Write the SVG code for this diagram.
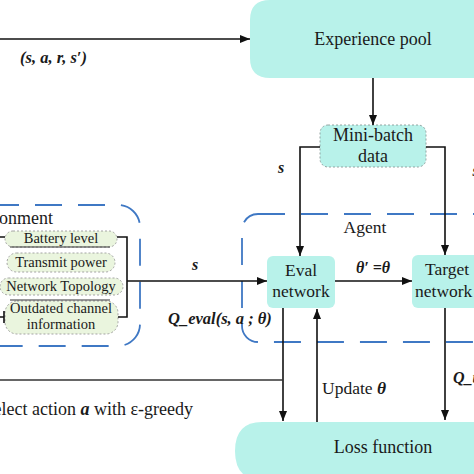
<svg xmlns="http://www.w3.org/2000/svg" width="474" height="474" viewBox="0 0 474 474">
<style>
text{font-family:"Liberation Serif","Times New Roman",serif;fill:#1a1a1a}
.bi{font-weight:bold;font-style:italic}
.cyan{fill:#b8f2ea}
.dash{fill:none;stroke:#3f78c4;stroke-width:1.8;stroke-dasharray:27 16}
.pill{fill:#eaf5de;stroke:#9a9a9a;stroke-width:0.9;stroke-dasharray:2 2}
.ln{fill:none;stroke:#111;stroke-width:1.6}
</style>
<defs>
<marker id="ah" viewBox="0 0 10 8" refX="10" refY="4" markerWidth="10" markerHeight="8" markerUnits="userSpaceOnUse" orient="auto">
<path d="M0,0 L10,4 L0,8 Z" fill="#111"/>
</marker>
</defs>
<rect width="474" height="474" fill="#fff"/>

<g id="environment">
<rect class="dash" x="-30" y="205" width="170" height="141" rx="22"/>
<text x="53" y="224" font-size="18" text-anchor="end">Environment</text>
<rect class="pill" x="5" y="231" width="112" height="16" rx="8"/>
<text x="61" y="243" font-size="14.5" text-anchor="middle">Battery level</text>
<rect class="pill" x="7" y="253" width="108" height="19" rx="9.5"/>
<text x="61" y="267" font-size="14.5" text-anchor="middle">Transmit power</text>
<rect class="pill" x="0" y="278" width="123" height="17" rx="8.5"/>
<text x="61" y="291" font-size="14.5" text-anchor="middle">Network Topology</text>
<rect class="pill" x="5" y="301" width="113" height="33" rx="12"/>
<text x="61" y="313" font-size="14.5" text-anchor="middle">Outdated channel</text>
<text x="61" y="329" font-size="14.5" text-anchor="middle">information</text>
<path d="M10,247 H110 M10,300 H110" stroke="#333" stroke-width="1" fill="none"/>
<path class="ln" d="M117,237 H127 V317 H118 M0,237 H5 M0,317 H4 M4,311 V323"/>
</g>

<g id="experience-pool">
<path class="cyan" d="M270,0 H480 V78 H270 Q250,78 250,58 V20 Q250,0 270,0 Z"/>
<text x="373" y="45" font-size="18" text-anchor="middle">Experience  pool</text>
</g>

<g id="mini-batch">
<rect x="320" y="125" width="106" height="42" rx="8" fill="#b8f2ea" stroke="#8a9a98" stroke-width="0.9" stroke-dasharray="2 2"/>
<text x="373" y="141" font-size="18" text-anchor="middle">Mini-batch</text>
<text x="373" y="162" font-size="18" text-anchor="middle">data</text>
</g>

<g id="agent">
<rect class="dash" x="242" y="214" width="260" height="128" rx="16"/>
<text x="365" y="233" font-size="17.5" text-anchor="middle">Agent</text>
</g>

<g id="eval-network">
<rect class="cyan" x="267" y="256" width="68" height="52" rx="6"/>
<text x="301" y="276" font-size="17.5" text-anchor="middle">Eval</text>
<text x="301" y="297" font-size="17.5" text-anchor="middle">network</text>
</g>

<g id="target-network">
<rect class="cyan" x="412" y="255" width="80" height="53" rx="6"/>
<text x="447" y="275" font-size="17.5" text-anchor="middle">Target</text>
<text x="415" y="297" font-size="17.5">network</text>
</g>

<g id="loss-function">
<path class="cyan" d="M262,422 H480 V480 H262 Q235,480 235,451 Q235,422 262,422 Z"/>
<text x="383" y="453" font-size="18" text-anchor="middle">Loss function</text>
</g>

<g id="connectors">
<path class="ln" d="M0,39 H250" marker-end="url(#ah)"/>
<path class="ln" d="M373,78 V125" marker-end="url(#ah)"/>
<path class="ln" d="M320,147 H300 V256" marker-end="url(#ah)"/>
<path class="ln" d="M426,147 H445 V255" marker-end="url(#ah)"/>
<path class="ln" d="M127,281 H267" marker-end="url(#ah)"/>
<path class="ln" d="M335,281 H412" marker-end="url(#ah)"/>
<path class="ln" d="M283,308 V421" marker-end="url(#ah)"/>
<path class="ln" d="M317,422 V309" marker-end="url(#ah)"/>
<path class="ln" d="M445,308 V420" marker-end="url(#ah)"/>
<path d="M0,380 H283" stroke="#333" stroke-width="1.3" fill="none"/>
</g>

<g id="labels">
<text x="20" y="63" font-size="16.5" class="bi">(s, a, r, s′)</text>
<text x="281" y="173" font-size="16" class="bi" text-anchor="middle">s</text>
<text x="472.5" y="176" font-size="16" class="bi">s′</text>
<text x="195" y="270" font-size="16" class="bi" text-anchor="middle">s</text>
<text x="373" y="273" font-size="16" class="bi" text-anchor="middle">θ′ =θ</text>
<text x="168" y="324" font-size="16.5" class="bi">Q_eval(s, a ; θ)</text>
<text x="322" y="394" font-size="17.5">Update <tspan class="bi">θ</tspan></text>
<text x="453" y="383" font-size="16" class="bi">Q_target</text>
<text x="193" y="415" font-size="18" text-anchor="end">Select action <tspan class="bi">a</tspan> with ε-greedy</text>
</g>
</svg>
